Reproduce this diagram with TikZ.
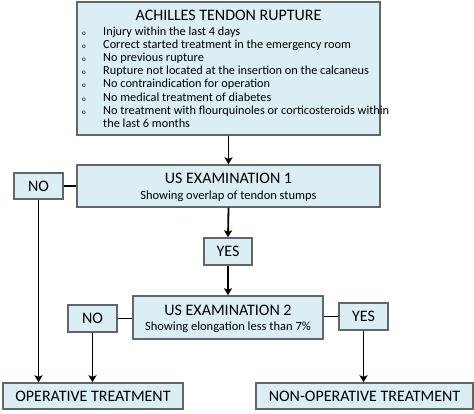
\documentclass[tikz,border=0pt]{standalone}
\usepackage{fontspec}
\setmainfont{Carlito}
\usetikzlibrary{arrows.meta,shadows}
\definecolor{boxfill}{HTML}{DBEEF4}
\definecolor{boxline}{HTML}{5F676B}
\tikzset{
  box/.style={draw=boxline, line width=1.4pt, fill=boxfill, rectangle, inner sep=0pt,
    drop shadow={shadow xshift=1pt, shadow yshift=-1pt, fill=black!45, opacity=0.6}},
  big/.style={font=\fontsize{16}{18}\selectfont},
  sub/.style={font=\fontsize{12.5}{14}\selectfont, anchor=base},
  conn/.style={line width=1.8pt, black},
  arr/.style={conn, -{Stealth[length=7pt,width=8pt,inset=1.5pt]}},
}
\begin{document}
\begin{tikzpicture}[x=1pt,y=-1pt]
\useasboundingbox (0,0) rectangle (474,413);
% boxes
\node[box, minimum width=303pt, minimum height=133pt] (top) at (228.5,68.5) {};
\node[big, anchor=base] (title) at (228.5,20.7) {ACHILLES TENDON RUPTURE};
\node[anchor=base west, inner sep=0pt] (list) at (82,35) {\fontsize{12.3}{13.2}\selectfont
 \begin{tabular}[t]{@{}p{21pt}@{}l@{}}
 \scriptsize o & Injury within the last 4 days\\
 \scriptsize o & Correct started treatment in the emergency room\\
 \scriptsize o & No previous rupture\\
 \scriptsize o & Rupture not located at the insertion on the calcaneus\\
 \scriptsize o & No contraindication for operation\\
 \scriptsize o & No medical treatment of diabetes\\
 \scriptsize o & No treatment with flourquinoles or corticosteroids within\\
  & the last 6 months
 \end{tabular}};
\node[box, minimum width=303pt, minimum height=42pt] (ex1) at (228.5,186) {};
\node[big, anchor=base] (ex1t) at (228.5,183.3) {US EXAMINATION 1};
\node[sub] (ex1s) at (228.5,199) {Showing overlap of tendon stumps};
\node[box, big, minimum width=49pt, minimum height=26pt] (no1) at (38.5,186) {NO};
\node[box, big, minimum width=48pt, minimum height=27pt] (yes1) at (228,251.5) {YES};
\node[box, minimum width=190pt, minimum height=43pt] (ex2) at (228,317.5) {};
\node[big, anchor=base] (ex2t) at (228,315) {US EXAMINATION 2};
\node[sub] (ex2s) at (228,330.5) {Showing elongation less than 7\%};
\node[box, big, minimum width=49pt, minimum height=27pt] (no2) at (92.5,318.5) {NO};
\node[box, big, minimum width=49pt, minimum height=27pt] (yes2) at (363.5,316.5) {YES};
\node[box, big, minimum width=180pt, minimum height=26pt] (op) at (93,396) {OPERATIVE TREATMENT};
\node[box, big, minimum width=217pt, minimum height=26pt] (nonop) at (364.5,396) {NON-OPERATIVE TREATMENT};
% connectors
\draw[arr] (top.south) -- (ex1.north);
\draw[arr] (ex1.south) -- (yes1.north);
\draw[arr] (yes1.south) -- (yes1.south |- ex2.north);
\draw[conn] (no1.east) -- (no1.east -| ex1.west);
\draw[conn] (ex2.west |- no2.east) -- (no2.east);
\draw[conn] (ex2.east |- yes2.west) -- (yes2.west);
\draw[arr] (no1.south) -- (no1.south |- op.north);
\draw[arr] (no2.south) -- (no2.south |- op.north);
\draw[arr] (yes2.south) -- (yes2.south |- nonop.north);
\end{tikzpicture}
\end{document}
